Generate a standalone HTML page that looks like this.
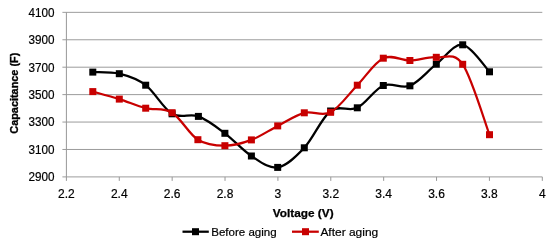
<!DOCTYPE html>
<html><head><meta charset="utf-8"><style>
html,body{margin:0;padding:0;background:#fff;width:550px;height:241px;overflow:hidden}
svg{display:block}
.t{font-family:"Liberation Sans",Arial,sans-serif;font-size:11.5px;fill:#000;stroke:#000;stroke-width:0.2px}
.b{font-family:"Liberation Sans",Arial,sans-serif;font-size:11.3px;font-weight:bold;fill:#000;stroke:#000;stroke-width:0.25px}
</style></head><body>
<svg width="550" height="241" viewBox="0 0 550 241">
<line x1="62.40" y1="12.35" x2="542.3" y2="12.35" stroke="#9c9c9c" stroke-width="1"/>
<line x1="62.40" y1="39.77" x2="542.3" y2="39.77" stroke="#9c9c9c" stroke-width="1"/>
<line x1="62.40" y1="67.20" x2="542.3" y2="67.20" stroke="#9c9c9c" stroke-width="1"/>
<line x1="62.40" y1="94.62" x2="542.3" y2="94.62" stroke="#9c9c9c" stroke-width="1"/>
<line x1="62.40" y1="122.05" x2="542.3" y2="122.05" stroke="#9c9c9c" stroke-width="1"/>
<line x1="62.40" y1="149.47" x2="542.3" y2="149.47" stroke="#9c9c9c" stroke-width="1"/>
<line x1="62.40" y1="176.90" x2="542.3" y2="176.90" stroke="#9c9c9c" stroke-width="1"/>
<line x1="66.4" y1="12.35" x2="66.4" y2="176.9" stroke="#989898" stroke-width="1"/>
<line x1="66.40" y1="176.9" x2="66.40" y2="180.9" stroke="#989898" stroke-width="1"/>
<line x1="119.28" y1="176.9" x2="119.28" y2="180.9" stroke="#989898" stroke-width="1"/>
<line x1="172.16" y1="176.9" x2="172.16" y2="180.9" stroke="#989898" stroke-width="1"/>
<line x1="225.03" y1="176.9" x2="225.03" y2="180.9" stroke="#989898" stroke-width="1"/>
<line x1="277.91" y1="176.9" x2="277.91" y2="180.9" stroke="#989898" stroke-width="1"/>
<line x1="330.79" y1="176.9" x2="330.79" y2="180.9" stroke="#989898" stroke-width="1"/>
<line x1="383.67" y1="176.9" x2="383.67" y2="180.9" stroke="#989898" stroke-width="1"/>
<line x1="436.54" y1="176.9" x2="436.54" y2="180.9" stroke="#989898" stroke-width="1"/>
<line x1="489.42" y1="176.9" x2="489.42" y2="180.9" stroke="#989898" stroke-width="1"/>
<line x1="542.30" y1="176.9" x2="542.30" y2="180.9" stroke="#989898" stroke-width="1"/>
<text x="54.6" y="16.65" text-anchor="end" class="t" style="font-size:12px" textLength="26" lengthAdjust="spacingAndGlyphs">4100</text>
<text x="54.6" y="44.07" text-anchor="end" class="t" style="font-size:12px" textLength="26" lengthAdjust="spacingAndGlyphs">3900</text>
<text x="54.6" y="71.50" text-anchor="end" class="t" style="font-size:12px" textLength="26" lengthAdjust="spacingAndGlyphs">3700</text>
<text x="54.6" y="98.92" text-anchor="end" class="t" style="font-size:12px" textLength="26" lengthAdjust="spacingAndGlyphs">3500</text>
<text x="54.6" y="126.35" text-anchor="end" class="t" style="font-size:12px" textLength="26" lengthAdjust="spacingAndGlyphs">3300</text>
<text x="54.6" y="153.78" text-anchor="end" class="t" style="font-size:12px" textLength="26" lengthAdjust="spacingAndGlyphs">3100</text>
<text x="54.6" y="181.20" text-anchor="end" class="t" style="font-size:12px" textLength="26" lengthAdjust="spacingAndGlyphs">2900</text>
<text x="66.40" y="197.6" text-anchor="middle" class="t" style="font-size:12px">2.2</text>
<text x="119.28" y="197.6" text-anchor="middle" class="t" style="font-size:12px">2.4</text>
<text x="172.16" y="197.6" text-anchor="middle" class="t" style="font-size:12px">2.6</text>
<text x="225.03" y="197.6" text-anchor="middle" class="t" style="font-size:12px">2.8</text>
<text x="277.91" y="197.6" text-anchor="middle" class="t" style="font-size:12px">3</text>
<text x="330.79" y="197.6" text-anchor="middle" class="t" style="font-size:12px">3.2</text>
<text x="383.67" y="197.6" text-anchor="middle" class="t" style="font-size:12px">3.4</text>
<text x="436.54" y="197.6" text-anchor="middle" class="t" style="font-size:12px">3.6</text>
<text x="489.42" y="197.6" text-anchor="middle" class="t" style="font-size:12px">3.8</text>
<text x="542.30" y="197.6" text-anchor="middle" class="t" style="font-size:12px">4</text>
<path d="M92.80,72.10 C97.22,72.37 110.48,71.52 119.30,73.70 C128.12,75.88 136.90,78.52 145.70,85.20 C154.50,91.88 163.32,108.60 172.10,113.80 C180.88,119.00 189.60,113.15 198.40,116.40 C207.20,119.65 216.07,126.70 224.90,133.30 C233.73,139.90 242.60,150.32 251.40,156.00 C260.20,161.68 268.88,168.77 277.70,167.40 C286.52,166.03 295.48,157.20 304.30,147.80 C313.12,138.40 321.77,117.67 330.60,111.00 C339.43,104.33 348.52,112.05 357.30,107.80 C366.08,103.55 374.53,89.17 383.30,85.50 C392.07,81.83 401.07,89.35 409.90,85.80 C418.73,82.25 427.50,71.03 436.30,64.20 C445.10,57.37 453.83,43.53 462.70,44.80 C471.57,46.07 485.03,67.30 489.50,71.80" fill="none" stroke="#000000" stroke-width="2.25" stroke-linejoin="round"/>
<rect x="89.30" y="68.60" width="7" height="7" fill="#000000"/>
<rect x="115.80" y="70.20" width="7" height="7" fill="#000000"/>
<rect x="142.20" y="81.70" width="7" height="7" fill="#000000"/>
<rect x="168.60" y="110.30" width="7" height="7" fill="#000000"/>
<rect x="194.90" y="112.90" width="7" height="7" fill="#000000"/>
<rect x="221.40" y="129.80" width="7" height="7" fill="#000000"/>
<rect x="247.90" y="152.50" width="7" height="7" fill="#000000"/>
<rect x="274.20" y="163.90" width="7" height="7" fill="#000000"/>
<rect x="300.80" y="144.30" width="7" height="7" fill="#000000"/>
<rect x="327.10" y="107.50" width="7" height="7" fill="#000000"/>
<rect x="353.80" y="104.30" width="7" height="7" fill="#000000"/>
<rect x="379.80" y="82.00" width="7" height="7" fill="#000000"/>
<rect x="406.40" y="82.30" width="7" height="7" fill="#000000"/>
<rect x="432.80" y="60.70" width="7" height="7" fill="#000000"/>
<rect x="459.20" y="41.30" width="7" height="7" fill="#000000"/>
<rect x="486.00" y="68.30" width="7" height="7" fill="#000000"/>
<path d="M92.80,91.60 C97.22,92.85 110.48,96.33 119.30,99.10 C128.12,101.87 136.90,105.93 145.70,108.20 C154.50,110.47 163.40,107.45 172.10,112.70 C180.80,117.95 189.10,134.20 197.90,139.70 C206.70,145.20 215.98,145.67 224.90,145.70 C233.82,145.73 242.60,143.20 251.40,139.90 C260.20,136.60 268.88,130.42 277.70,125.90 C286.52,121.38 295.48,115.07 304.30,112.80 C313.12,110.53 321.77,116.90 330.60,112.30 C339.43,107.70 348.52,94.22 357.30,85.20 C366.08,76.18 374.53,62.32 383.30,58.20 C392.07,54.08 401.07,60.65 409.90,60.50 C418.73,60.35 427.50,56.67 436.30,57.30 C445.10,57.93 453.83,51.40 462.70,64.30 C471.57,77.20 485.03,122.97 489.50,134.70" fill="none" stroke="#c80000" stroke-width="2.25" stroke-linejoin="round"/>
<rect x="89.30" y="88.10" width="7" height="7" fill="#c80000"/>
<rect x="115.80" y="95.60" width="7" height="7" fill="#c80000"/>
<rect x="142.20" y="104.70" width="7" height="7" fill="#c80000"/>
<rect x="168.60" y="109.20" width="7" height="7" fill="#c80000"/>
<rect x="194.40" y="136.20" width="7" height="7" fill="#c80000"/>
<rect x="221.40" y="142.20" width="7" height="7" fill="#c80000"/>
<rect x="247.90" y="136.40" width="7" height="7" fill="#c80000"/>
<rect x="274.20" y="122.40" width="7" height="7" fill="#c80000"/>
<rect x="300.80" y="109.30" width="7" height="7" fill="#c80000"/>
<rect x="327.10" y="108.80" width="7" height="7" fill="#c80000"/>
<rect x="353.80" y="81.70" width="7" height="7" fill="#c80000"/>
<rect x="379.80" y="54.70" width="7" height="7" fill="#c80000"/>
<rect x="406.40" y="57.00" width="7" height="7" fill="#c80000"/>
<rect x="432.80" y="53.80" width="7" height="7" fill="#c80000"/>
<rect x="459.20" y="60.80" width="7" height="7" fill="#c80000"/>
<rect x="486.00" y="131.20" width="7" height="7" fill="#c80000"/>
<text x="303.2" y="217.4" text-anchor="middle" class="b" textLength="60.8" lengthAdjust="spacingAndGlyphs">Voltage (V)</text>
<text transform="translate(17.8,93.2) rotate(-90)" x="0" y="0" text-anchor="middle" class="b" style="font-size:11.8px;stroke-width:0.35px" textLength="81" lengthAdjust="spacingAndGlyphs">Capacitance (F)</text>
<line x1="182.5" y1="231.7" x2="208.8" y2="231.7" stroke="#000000" stroke-width="2.25"/>
<rect x="192" y="228.2" width="7" height="7" fill="#000000"/>
<text x="211.2" y="235.5" class="t" textLength="65.5" lengthAdjust="spacingAndGlyphs">Before aging</text>
<line x1="292" y1="231.7" x2="318.8" y2="231.7" stroke="#c80000" stroke-width="2.25"/>
<rect x="302" y="228.2" width="7" height="7" fill="#c80000"/>
<text x="320.4" y="235.5" class="t" textLength="57.8" lengthAdjust="spacingAndGlyphs">After aging</text>
</svg>
</body></html>
